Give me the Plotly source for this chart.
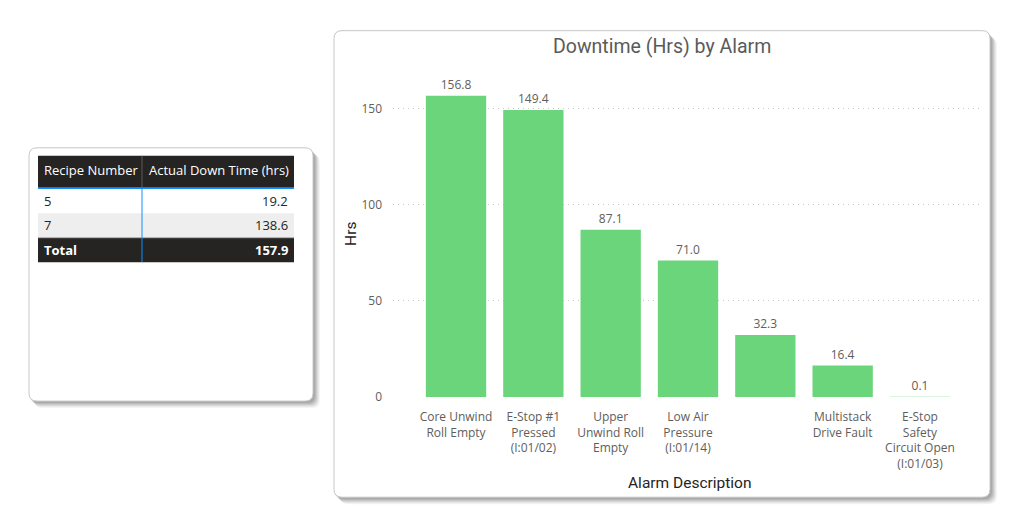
import plotly.graph_objects as go

# ---------------- data ----------------
alarms = [
    "Core Unwind<br>Roll Empty",
    "E-Stop #1<br>Pressed<br>(I:01/02)",
    "Upper<br>Unwind Roll<br>Empty",
    "Low Air<br>Pressure<br>(I:01/14)",
    " ",
    "Multistack<br>Drive Fault",
    "E-Stop<br>Safety<br>Circuit Open<br>(I:01/03)",
]
downtime_hrs = [156.8, 149.4, 87.1, 71.0, 32.3, 16.4, 0.1]
y_ticks = [0, 50, 100, 150]

table_header = ["Recipe Number", "Actual Down Time (hrs)"]
recipe_numbers = ["5", "7"]
recipe_downtime = ["19.2", "138.6"]
total_label = "Total"
total_value = "157.9"

# ---------------- helpers ----------------
# page has an 8px body margin; the photo is slightly squeezed vertically
OFF = 8
SY = 0.983
W, H = 1004, 504
FONT = "Segoe UI, Open Sans, sans-serif"


def px(x):
    return (x - OFF) / W


def py(y):
    return 1 - ((y - 0.5) / SY - OFF) / H


def rrect(x0, y0, x1, y1, r):
    X0, X1 = px(x0), px(x1)
    Y0, Y1 = py(y0), py(y1)
    rx, ry = r / W, r / H
    return (f"M {X0+rx},{Y0} L {X1-rx},{Y0} Q {X1},{Y0} {X1},{Y0-ry} "
            f"L {X1},{Y1+ry} Q {X1},{Y1} {X1-rx},{Y1} L {X0+rx},{Y1} "
            f"Q {X0},{Y1} {X0},{Y1+ry} L {X0},{Y0-ry} Q {X0},{Y0} {X0+rx},{Y0} Z")


shapes = []
annotations = []


def card(x0, y0, x1, y1):
    # soft shadow
    for i, op in enumerate([0.04, 0.05, 0.06, 0.07, 0.08, 0.09]):
        d = 7 - i
        shapes.append(dict(type="path", xref="paper", yref="paper",
                           path=rrect(x0 + d - 1, y0 + d, x1 + d, y1 + d, 8),
                           fillcolor=f"rgba(0,0,0,{op})", line=dict(width=0),
                           layer="below"))
    shapes.append(dict(type="path", xref="paper", yref="paper",
                       path=rrect(x0, y0, x1, y1, 8), fillcolor="white",
                       line=dict(color="#C6C6C6", width=1), layer="below"))


def rect(x0, y0, x1, y1, color, layer="below"):
    shapes.append(dict(type="rect", xref="paper", yref="paper",
                       x0=px(x0), x1=px(x1), y0=py(y1), y1=py(y0),
                       fillcolor=color, line=dict(width=0), layer=layer))


def line(x0, y0, x1, y1, color, w=1):
    shapes.append(dict(type="line", xref="paper", yref="paper",
                       x0=px(x0), x1=px(x1), y0=py(y0), y1=py(y1),
                       line=dict(color=color, width=w), layer="below"))


def text(x, y, s, size=13, color="#252423", xanchor="left", bold=False):
    annotations.append(dict(xref="paper", yref="paper", x=px(x), y=py(y),
                            text=f"<b>{s}</b>" if bold else s, showarrow=False,
                            xanchor=xanchor, yanchor="middle",
                            font=dict(family=FONT, size=size, color=color)))


# ---------------- cards ----------------
card(29, 148, 313, 401)
card(334, 31, 990, 497)

# ---------------- table ----------------
tx0, tdiv, tx1 = 38, 142, 294
rect(tx0, 156, tx1, 188, "#252423")
line(tdiv, 156, tdiv, 188, "#5A5A5A")
text(tx0 + 4, 170, table_header[0], color="white")
text(tdiv + 5, 170, table_header[1], color="white")

row_top = 189
row_h = 24.4
for i, (rn, dv) in enumerate(zip(recipe_numbers, recipe_downtime)):
    y0 = row_top + i * row_h
    rect(tx0, y0, tx1, y0 + row_h, "#FFFFFF" if i % 2 == 0 else "#EEEEEE")
    text(tx0 + 4, y0 + row_h / 2, rn)
    text(tx1 - 4, y0 + row_h / 2, dv, xanchor="right")
ty0 = row_top + len(recipe_numbers) * row_h
rect(tx0, ty0, tx1, ty0 + row_h, "#252423")
line(tx0, ty0, tx1, ty0, "#B0B0B0")
text(tx0 + 4, ty0 + row_h / 2, total_label, color="white", bold=True)
text(tx1 - 4, ty0 + row_h / 2, total_value, color="white", xanchor="right", bold=True)
line(tx0, 188.5, tx1, 188.5, "#118DFF", 1.5)
line(tdiv, 188, tdiv, ty0 + row_h, "#118DFF")

# ---------------- bar chart ----------------
fig = go.Figure(go.Bar(
    x=alarms, y=downtime_hrs,
    marker=dict(color="#6AD57A", line=dict(width=0)),
    text=[f"{v:.1f}" for v in downtime_hrs], textposition="outside",
    cliponaxis=False,
    textfont=dict(family=FONT, size=12, color="#605E5C"),
))

annotations.append(dict(xref="paper", yref="paper", x=px(662), y=py(47),
                        text="Downtime (Hrs) by Alarm", showarrow=False,
                        xanchor="center", yanchor="middle",
                        font=dict(family="Roboto, DIN, sans-serif", size=19.5, color="#5A5A5A")))
annotations.append(dict(xref="paper", yref="paper", x=px(351), y=py(234),
                        text="Hrs", showarrow=False, textangle=-90,
                        xanchor="center", yanchor="middle",
                        font=dict(family="Roboto, sans-serif", size=15.5,
                                  color="#252423")))
annotations.append(dict(xref="paper", yref="paper", x=px(689), y=py(483),
                        text="Alarm Description", showarrow=False,
                        xanchor="center", yanchor="middle",
                        font=dict(family="Roboto, sans-serif", size=15.5,
                                  color="#252423")))

plot_bottom, plot_top = 397, 80
fig.update_layout(
    width=W, height=H,
    margin=dict(l=0, r=0, t=0, b=0),
    paper_bgcolor="white", plot_bgcolor="rgba(0,0,0,0)",
    showlegend=False, bargap=0.22,
    font=dict(family=FONT),
    shapes=shapes, annotations=annotations,
    xaxis=dict(domain=[px(393), px(983)], range=[-0.815, 6.815],
               showgrid=False, zeroline=False, showline=False, ticks="",
               tickfont=dict(family=FONT, size=12, color="#605E5C"),
               ticklabelstandoff=11, fixedrange=True),
    yaxis=dict(domain=[py(plot_bottom), py(plot_top)],
               range=[0, 165.1],
               tickvals=y_ticks, showgrid=True, gridcolor="#C8C8C8",
               griddash="1px,4px", gridwidth=1, zeroline=False, showline=False,
               ticks="", tickfont=dict(family=FONT, size=12, color="#605E5C"),
               ticklabelstandoff=10, fixedrange=True),
)

fig.write_html("out.html")
